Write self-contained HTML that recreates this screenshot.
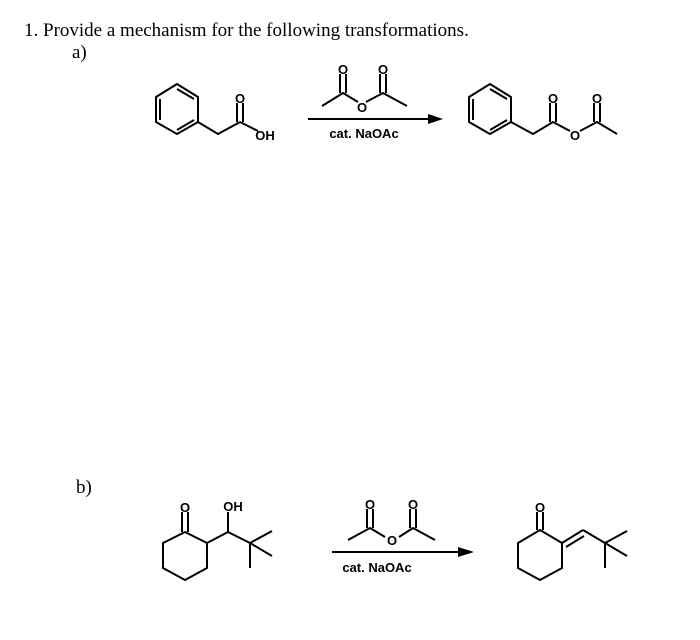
<!DOCTYPE html>
<html><head><meta charset="utf-8"><style>
body{margin:0;background:#fff}
svg{display:block}
.t{font-family:"Liberation Serif",serif;font-size:19px}
.a{font-family:"Liberation Sans",sans-serif;font-size:13px;font-weight:bold}
</style></head><body>
<svg width="700" height="640" viewBox="0 0 700 640" xmlns="http://www.w3.org/2000/svg">
<text class="t" x="24" y="36">1. Provide a mechanism for the following transformations.</text>
<text class="t" x="72" y="58">a)</text>
<text class="t" x="76" y="493">b)</text>
<g stroke="#000" stroke-width="2" fill="none" stroke-linejoin="round">
<!-- benzene 1 -->
<polygon points="177,84 198,97 198,122 177,134 156,122 156,97"/>
<line x1="177" y1="89" x2="194" y2="99"/><line x1="194" y1="120" x2="177" y2="130"/><line x1="160" y1="99" x2="160" y2="120"/>
<polyline points="198,122 218,134 240,122"/>
<line x1="240" y1="122" x2="258" y2="131"/>
<line x1="237" y1="103" x2="237" y2="122"/><line x1="243" y1="103" x2="243" y2="122"/>
<!-- reagent a -->
<polyline points="322,106 343,93 358,102"/><polyline points="366,102 383,93 407,106"/>
<line x1="340" y1="74" x2="340" y2="93"/><line x1="346" y1="74" x2="346" y2="93"/>
<line x1="380" y1="74" x2="380" y2="93"/><line x1="386" y1="74" x2="386" y2="93"/>
<line x1="308" y1="119" x2="432" y2="119"/>
<!-- product a -->
<polygon points="490,84 511,97 511,122 490,134 469,122 469,97"/>
<line x1="490" y1="89" x2="507" y2="99"/><line x1="507" y1="120" x2="490" y2="130"/><line x1="473" y1="99" x2="473" y2="120"/>
<polyline points="511,122 533,134 553,122 570,131"/>
<polyline points="580,131 597,122 617,134"/>
<line x1="550" y1="103" x2="550" y2="122"/><line x1="556" y1="103" x2="556" y2="122"/>
<line x1="594" y1="103" x2="594" y2="122"/><line x1="600" y1="103" x2="600" y2="122"/>
<!-- b SM -->
<polygon points="185,532 207,543 207,568 185,580 163,568 163,543"/>
<line x1="182" y1="512" x2="182" y2="532"/><line x1="188" y1="512" x2="188" y2="532"/>
<polyline points="207,543 228,532 250,543"/>
<line x1="228" y1="532" x2="228" y2="512"/>
<line x1="250" y1="543" x2="272" y2="531"/><line x1="250" y1="543" x2="272" y2="556"/><line x1="250" y1="543" x2="250" y2="568"/>
<!-- reagent b -->
<polyline points="348,540 370,528 385,537"/><polyline points="399,537 413,528 435,540"/>
<line x1="367" y1="509" x2="367" y2="528"/><line x1="373" y1="509" x2="373" y2="528"/>
<line x1="410" y1="509" x2="410" y2="528"/><line x1="416" y1="509" x2="416" y2="528"/>
<line x1="332" y1="552" x2="462" y2="552"/>
<!-- product b -->
<polygon points="540,530 562,543 562,568 540,580 518,568 518,543"/>
<line x1="537" y1="512" x2="537" y2="530"/><line x1="543" y1="512" x2="543" y2="530"/>
<line x1="562" y1="543" x2="583" y2="530"/><line x1="566" y1="547" x2="584" y2="536"/>
<line x1="583" y1="530" x2="605" y2="543"/>
<line x1="605" y1="543" x2="627" y2="531"/><line x1="605" y1="543" x2="627" y2="556"/><line x1="605" y1="543" x2="605" y2="568"/>
</g>
<polygon points="443,119 428,114 428,124" fill="#000"/>
<polygon points="474,552 458,547 458,557" fill="#000"/>
<g class="a" text-anchor="middle">
<text x="240" y="103">O</text><text x="265" y="140">OH</text>
<text x="343" y="74">O</text><text x="383" y="74">O</text><text x="362" y="112">O</text>
<text x="364" y="138">cat. NaOAc</text>
<text x="553" y="103">O</text><text x="597" y="103">O</text><text x="575" y="140">O</text>
<text x="185" y="512">O</text><text x="233" y="511">OH</text>
<text x="370" y="509">O</text><text x="413" y="509">O</text><text x="392" y="545">O</text>
<text x="377" y="572">cat. NaOAc</text>
<text x="540" y="512">O</text>
</g>
</svg>
</body></html>
